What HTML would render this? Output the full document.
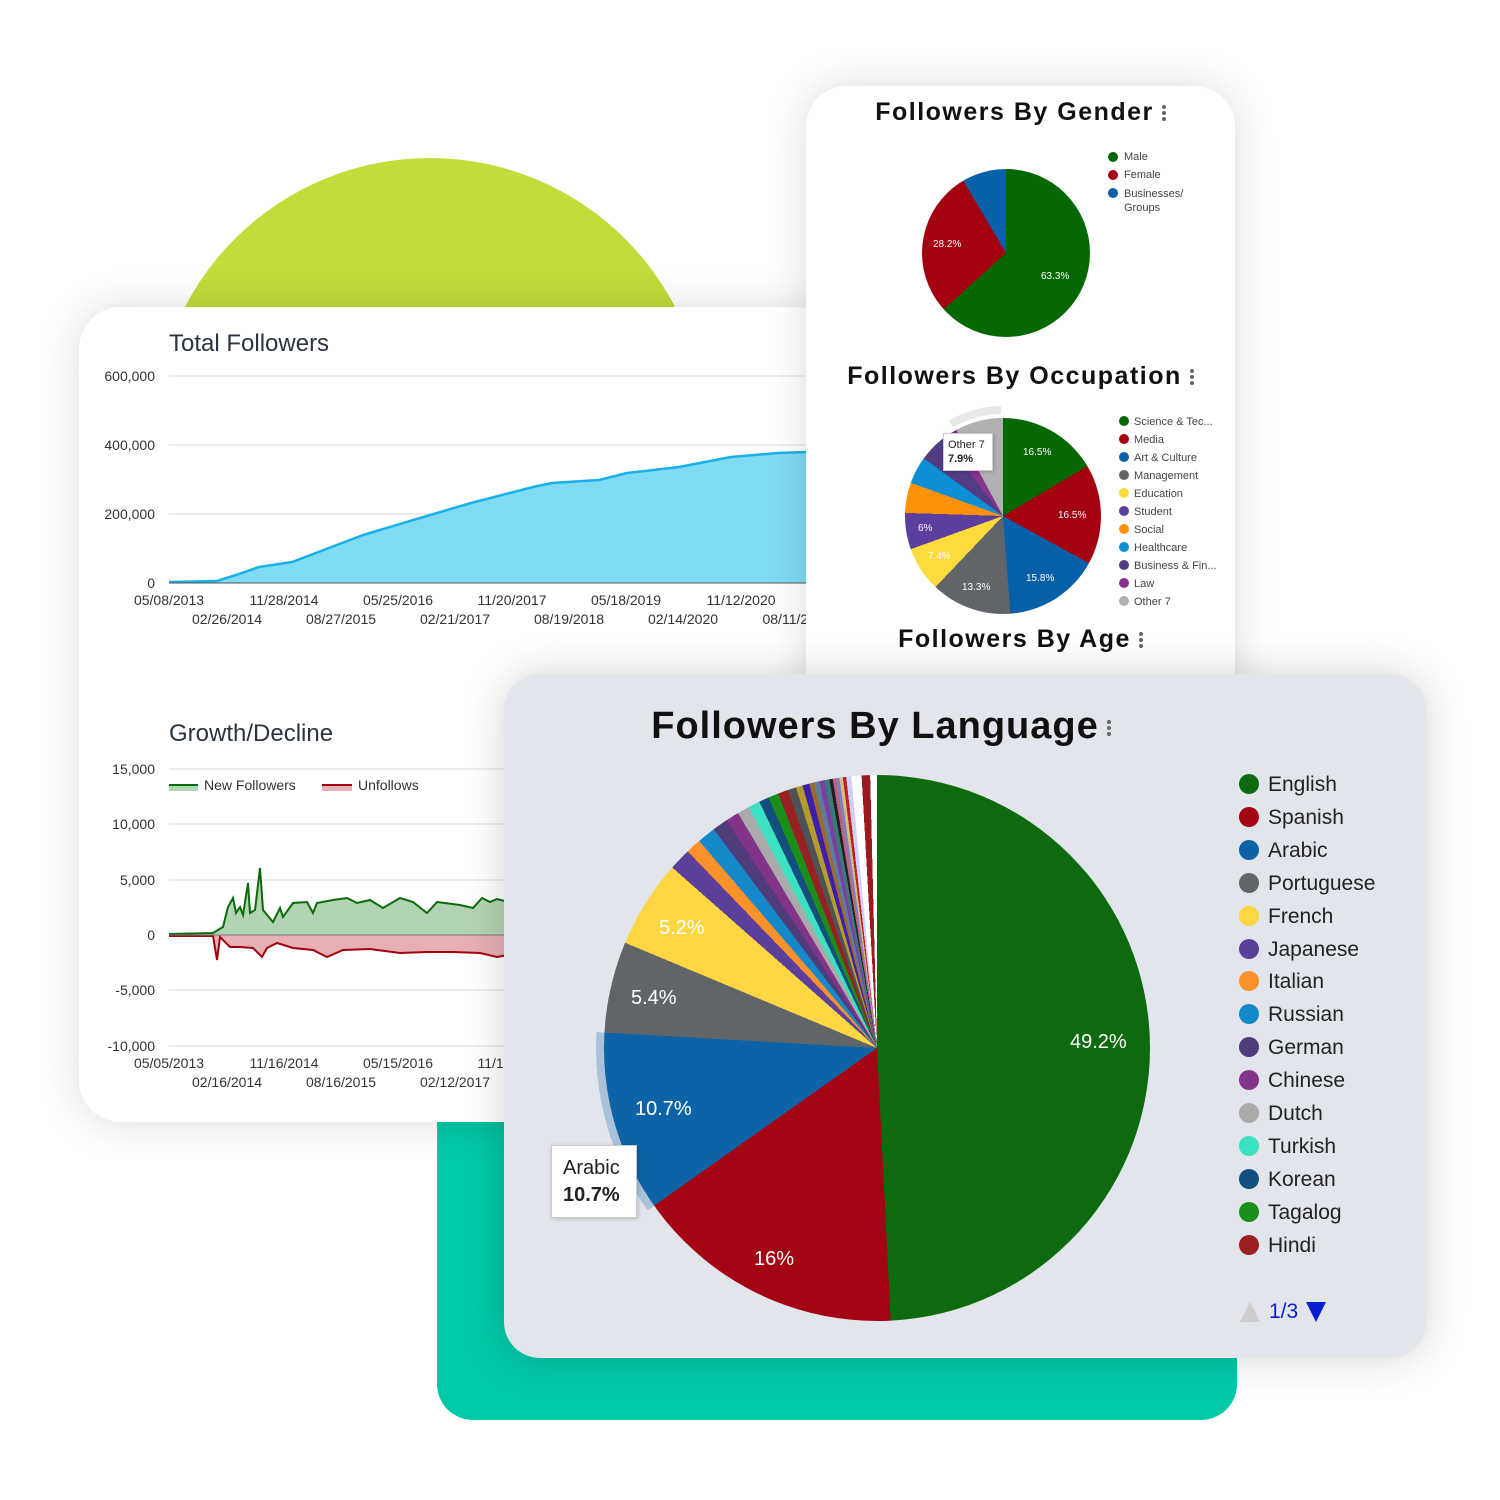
<!DOCTYPE html>
<html><head><meta charset="utf-8"><style>
*{margin:0;padding:0;box-sizing:border-box}
body{width:1500px;height:1500px;background:#fff;position:relative;overflow:hidden;font-family:"Liberation Sans",sans-serif}
.abs{position:absolute}
.card{position:absolute;overflow:hidden}
.card svg{position:absolute}
.t{position:absolute;white-space:nowrap}
.title{font-weight:bold;color:#111;letter-spacing:1.5px}
.dot{position:absolute;border-radius:50%}
.keb{display:inline-block;width:4px;margin-left:8px;vertical-align:middle}
.keb i{display:block;width:4px;height:4px;border-radius:50%;background:#666;margin:2px 0}
</style></head><body>

<div class="abs" style="left:154px;top:158px;width:552px;height:552px;border-radius:50%;background:#c2dc3a"></div>
<div class="abs" style="left:437px;top:1080px;width:800px;height:340px;background:#00c9a7;border-radius:0 0 36px 36px"></div>

<div class="card" style="left:79px;top:307px;width:760px;height:815px;background:#fff;border-radius:42px;box-shadow:0 0 40px rgba(0,0,0,0.15)">
<svg style="left:-79px;top:-307px" width="1500" height="1500">
<g stroke="#ddd" stroke-width="1">
<line x1="169" y1="376" x2="840" y2="376"/><line x1="169" y1="445" x2="840" y2="445"/><line x1="169" y1="514" x2="840" y2="514"/>
<line x1="169" y1="769" x2="840" y2="769"/><line x1="169" y1="824" x2="840" y2="824"/><line x1="169" y1="880" x2="840" y2="880"/><line x1="169" y1="990" x2="840" y2="990"/><line x1="169" y1="1046" x2="840" y2="1046"/>
</g>
<path d="M169,583 L170,582 L217,581 L236,575 L259,567 L292,562 L363,535 L420,518 L471,503 L533,487 L552,483 L599,480 L627,473 L679,467 L731,457 L778,453 L840,451 L840,583 Z" fill="#80dcf5"/>
<polyline points="169,582 217,581 236,575 259,567 292,562 363,535 420,518 471,503 533,487 552,483 599,480 627,473 679,467 731,457 778,453 840,451" fill="none" stroke="#1ab0e8" stroke-width="2.5"/>
<line x1="169" y1="583" x2="840" y2="583" stroke="#555" stroke-width="1"/>
<path d="M169,934 L213,933 L223,927 L228,907 L233,898 L236,913 L240,907 L243,915 L248,883 L250,913 L255,910 L260,868 L263,910 L273,922 L280,908 L283,917 L293,903 L307,902 L313,913 L317,903 L333,900 L347,898 L357,903 L370,900 L383,908 L400,898 L413,902 L427,913 L437,902 L460,905 L473,908 L482,898 L490,902 L497,899 L520,905 L520,935 L169,935 Z" fill="#b3d4b3"/>
<path d="M169,936 L213,936 L217,960 L220,937 L230,947 L240,947 L253,948 L262,957 L267,948 L277,943 L293,948 L313,950 L327,957 L343,950 L370,949 L400,953 L427,952 L453,952 L480,953 L497,957 L520,953 L520,935 L169,935 Z" fill="#e6b0b4"/>
<polyline points="169,934 213,933 223,927 228,907 233,898 236,913 240,907 243,915 248,883 250,913 255,910 260,868 263,910 273,922 280,908 283,917 293,903 307,902 313,913 317,903 333,900 347,898 357,903 370,900 383,908 400,898 413,902 427,913 437,902 460,905 473,908 482,898 490,902 497,899 520,905" fill="none" stroke="#0b6b0b" stroke-width="2"/>
<polyline points="169,936 213,936 217,960 220,937 230,947 240,947 253,948 262,957 267,948 277,943 293,948 313,950 327,957 343,950 370,949 400,953 427,952 453,952 480,953 497,957 520,953" fill="none" stroke="#a30010" stroke-width="2"/>
<line x1="169" y1="935" x2="840" y2="935" stroke="#777" stroke-width="1"/>
<rect x="169" y="784" width="29" height="7" fill="#b3d4b3"/><line x1="169" y1="785" x2="198" y2="785" stroke="#0b6b0b" stroke-width="2"/>
<rect x="322" y="784" width="30" height="7" fill="#e6b0b4"/><line x1="322" y1="785" x2="352" y2="785" stroke="#a30010" stroke-width="2"/>
<g font-family="Liberation Sans" font-size="14" fill="#333">
<text x="204" y="790">New Followers</text><text x="358" y="790">Unfollows</text>
<g text-anchor="end"><text x="155" y="381">600,000</text><text x="155" y="450">400,000</text><text x="155" y="519">200,000</text><text x="155" y="588">0</text>
<text x="155" y="774">15,000</text><text x="155" y="829">10,000</text><text x="155" y="885">5,000</text><text x="155" y="940">0</text><text x="155" y="995">-5,000</text><text x="155" y="1051">-10,000</text></g>
<g text-anchor="middle"><text x="169" y="605">05/08/2013</text><text x="284" y="605">11/28/2014</text><text x="398" y="605">05/25/2016</text><text x="512" y="605">11/20/2017</text><text x="626" y="605">05/18/2019</text><text x="741" y="605">11/12/2020</text>
<text x="227" y="624">02/26/2014</text><text x="341" y="624">08/27/2015</text><text x="455" y="624">02/21/2017</text><text x="569" y="624">08/19/2018</text><text x="683" y="624">02/14/2020</text><text x="797" y="624">08/11/2021</text>
<text x="169" y="1068">05/05/2013</text><text x="284" y="1068">11/16/2014</text><text x="398" y="1068">05/15/2016</text><text x="512" y="1068">11/15/2017</text>
<text x="227" y="1087">02/16/2014</text><text x="341" y="1087">08/16/2015</text><text x="455" y="1087">02/12/2017</text></g>
</g>
<g font-family="Liberation Sans" font-size="24" fill="#2a3340"><text x="169" y="351">Total Followers</text><text x="169" y="741">Growth/Decline</text></g>
</svg>
</div>

<div class="card" style="left:806px;top:86px;width:429px;height:640px;background:#fff;border-radius:40px;box-shadow:0 0 40px rgba(0,0,0,0.15)">
<div class="t title" style="left:0;width:429px;text-align:center;top:12px;font-size:25px">Followers By Gender<span class="keb"><i></i><i></i><i></i></span></div>
<div class="abs" style="left:116px;top:83px;width:168px;height:168px;border-radius:50%;background:conic-gradient(#056805 0 63.3%,#a30010 63.3% 91.5%,#0860a8 91.5% 100%)"></div>
<div class="t" style="left:127px;top:153px;font-size:10px;color:#fff">28.2%</div>
<div class="t" style="left:235px;top:185px;font-size:10px;color:#fff">63.3%</div>
<div class="dot" style="left:302px;top:66px;width:10px;height:10px;background:#056805"></div><div class="t" style="left:318px;top:65px;font-size:11px;color:#444">Male</div>
<div class="dot" style="left:302px;top:84px;width:10px;height:10px;background:#a30010"></div><div class="t" style="left:318px;top:83px;font-size:11px;color:#444">Female</div>
<div class="dot" style="left:302px;top:102px;width:10px;height:10px;background:#0860a8"></div><div class="t" style="left:318px;top:101px;font-size:11px;color:#444;line-height:14px">Businesses/<br>Groups</div>

<div class="t title" style="left:0;width:429px;text-align:center;top:276px;font-size:25px">Followers By Occupation<span class="keb"><i></i><i></i><i></i></span></div>
<svg style="left:-806px;top:-86px" width="1500" height="1500"><path d="M951,424 A104,104 0 0 1 1001,410" fill="none" stroke="#e8e8e8" stroke-width="8"/></svg>
<div class="abs" style="left:99px;top:332px;width:196px;height:196px;border-radius:50%;background:conic-gradient(#056805 0 16.5%,#a30010 16.5% 33%,#0860a8 33% 48.8%,#616469 48.8% 62.1%,#fddb3a 62.1% 69.5%,#5b3e9e 69.5% 75.5%,#fd9108 75.5% 80.5%,#0c8fd4 80.5% 85%,#503d82 85% 89.5%,#86328f 89.5% 92.1%,#b0b0b2 92.1% 100%)"></div>
<div class="t" style="left:217px;top:361px;font-size:10px;color:#fff">16.5%</div>
<div class="t" style="left:252px;top:424px;font-size:10px;color:#fff">16.5%</div>
<div class="t" style="left:220px;top:487px;font-size:10px;color:#fff">15.8%</div>
<div class="t" style="left:156px;top:496px;font-size:10px;color:#fff">13.3%</div>
<div class="t" style="left:122px;top:465px;font-size:10px;color:#fff">7.4%</div>
<div class="t" style="left:112px;top:437px;font-size:10px;color:#fff">6%</div>
<div class="abs" style="left:137px;top:347px;width:50px;height:38px;background:#fff;border:1px solid #ccc;box-shadow:1px 1px 3px rgba(0,0,0,.2)"></div>
<div class="t" style="left:142px;top:352px;font-size:11px;color:#222;line-height:14px">Other 7<br><b>7.9%</b></div>
<div style="position:absolute;left:313px;top:327px;font-size:11px;color:#444;line-height:18px">
<div><span class="dot" style="position:relative;display:inline-block;width:10px;height:10px;background:#056805;margin-right:5px;top:1px"></span>Science &amp; Tec...</div>
<div><span class="dot" style="position:relative;display:inline-block;width:10px;height:10px;background:#a30010;margin-right:5px;top:1px"></span>Media</div>
<div><span class="dot" style="position:relative;display:inline-block;width:10px;height:10px;background:#0860a8;margin-right:5px;top:1px"></span>Art &amp; Culture</div>
<div><span class="dot" style="position:relative;display:inline-block;width:10px;height:10px;background:#616469;margin-right:5px;top:1px"></span>Management</div>
<div><span class="dot" style="position:relative;display:inline-block;width:10px;height:10px;background:#fddb3a;margin-right:5px;top:1px"></span>Education</div>
<div><span class="dot" style="position:relative;display:inline-block;width:10px;height:10px;background:#5b3e9e;margin-right:5px;top:1px"></span>Student</div>
<div><span class="dot" style="position:relative;display:inline-block;width:10px;height:10px;background:#fd9108;margin-right:5px;top:1px"></span>Social</div>
<div><span class="dot" style="position:relative;display:inline-block;width:10px;height:10px;background:#0c8fd4;margin-right:5px;top:1px"></span>Healthcare</div>
<div><span class="dot" style="position:relative;display:inline-block;width:10px;height:10px;background:#503d82;margin-right:5px;top:1px"></span>Business &amp; Fin...</div>
<div><span class="dot" style="position:relative;display:inline-block;width:10px;height:10px;background:#86328f;margin-right:5px;top:1px"></span>Law</div>
<div><span class="dot" style="position:relative;display:inline-block;width:10px;height:10px;background:#b0b0b2;margin-right:5px;top:1px"></span>Other 7</div>
</div>
<div class="t title" style="left:0;width:429px;text-align:center;top:539px;font-size:25px">Followers By Age<span class="keb"><i></i><i></i><i></i></span></div>
</div>

<div class="card" style="left:504px;top:674px;width:922px;height:684px;background:#e2e6ec;border-radius:36px;box-shadow:0 0 40px rgba(0,0,0,0.18)">
<div class="t title" style="left:0;width:754px;text-align:center;top:31px;font-size:38px;color:#111;letter-spacing:1px">Followers By Language<span class="keb"><i></i><i></i><i></i></span></div>
<div class="abs" style="left:92px;top:93px;width:562px;height:562px;border-radius:50%;background:conic-gradient(transparent 0 65.2%,#a9c1d9 65.2% 75.9%,transparent 75.9% 100%)"></div>
<div class="abs" style="left:100px;top:101px;width:546px;height:546px;border-radius:50%;background:conic-gradient(#0e6a0e 0 49.2%,#a30515 49.2% 65.2%,#0e63a6 65.2% 75.9%,#626568 75.9% 81.3%,#fdd643 81.3% 86.5%,#5b3f9b 86.5% 87.8%,#fb9129 87.8% 88.7%,#1488c8 88.7% 89.8%,#503c78 89.8% 90.7%,#82348a 90.7% 91.5%,#aaaaab 91.5% 92.2%,#3be1c0 92.2% 92.9%,#144e7e 92.9% 93.5%,#1a8f1a 93.5% 94.1%,#992020 94.1% 94.7%,#4d5256 94.7% 95.2%,#b59a2e 95.2% 95.6%,#3d1ead 95.6% 96%,#9b6a30 96% 96.3%,#5c7da0 96.3% 96.6%,#7a3fa0 96.6% 96.9%,#3a7a7a 96.9% 97.2%,#222 97.2% 97.4%,#c06080 97.4% 97.6%,#8080c0 97.6% 97.8%,#d0c080 97.8% 98%,#c02020 98% 98.2%,#d0d0ff 98.2% 98.5%,#ffffff 98.5% 99.1%,#9b1a20 99.1% 99.6%,#ffffff 99.6% 100%)"></div>
<div class="t" style="left:566px;top:357px;font-size:20px;color:#fff">49.2%</div>
<div class="t" style="left:250px;top:574px;font-size:20px;color:#fff">16%</div>
<div class="t" style="left:131px;top:424px;font-size:20px;color:#fff">10.7%</div>
<div class="t" style="left:127px;top:313px;font-size:20px;color:#fff">5.4%</div>
<div class="t" style="left:155px;top:243px;font-size:20px;color:#fff">5.2%</div>
<div class="abs" style="left:47px;top:471px;width:86px;height:73px;background:#fff;border:1px solid #ccc;box-shadow:1px 1px 4px rgba(0,0,0,.2)"></div>
<div class="t" style="left:59px;top:481px;font-size:20px;color:#222;line-height:27px">Arabic<br><b>10.7%</b></div>
<div style="position:absolute;left:735px;top:95px;font-size:21px;color:#222;line-height:32.9px">
<div><span style="display:inline-block;width:20px;height:20px;border-radius:50%;background:#0e6a0e;margin-right:9px;vertical-align:-3px"></span>English</div>
<div><span style="display:inline-block;width:20px;height:20px;border-radius:50%;background:#a30515;margin-right:9px;vertical-align:-3px"></span>Spanish</div>
<div><span style="display:inline-block;width:20px;height:20px;border-radius:50%;background:#0e63a6;margin-right:9px;vertical-align:-3px"></span>Arabic</div>
<div><span style="display:inline-block;width:20px;height:20px;border-radius:50%;background:#626568;margin-right:9px;vertical-align:-3px"></span>Portuguese</div>
<div><span style="display:inline-block;width:20px;height:20px;border-radius:50%;background:#fdd643;margin-right:9px;vertical-align:-3px"></span>French</div>
<div><span style="display:inline-block;width:20px;height:20px;border-radius:50%;background:#5b3f9b;margin-right:9px;vertical-align:-3px"></span>Japanese</div>
<div><span style="display:inline-block;width:20px;height:20px;border-radius:50%;background:#fb9129;margin-right:9px;vertical-align:-3px"></span>Italian</div>
<div><span style="display:inline-block;width:20px;height:20px;border-radius:50%;background:#1488c8;margin-right:9px;vertical-align:-3px"></span>Russian</div>
<div><span style="display:inline-block;width:20px;height:20px;border-radius:50%;background:#503c78;margin-right:9px;vertical-align:-3px"></span>German</div>
<div><span style="display:inline-block;width:20px;height:20px;border-radius:50%;background:#82348a;margin-right:9px;vertical-align:-3px"></span>Chinese</div>
<div><span style="display:inline-block;width:20px;height:20px;border-radius:50%;background:#aaaaab;margin-right:9px;vertical-align:-3px"></span>Dutch</div>
<div><span style="display:inline-block;width:20px;height:20px;border-radius:50%;background:#3be1c0;margin-right:9px;vertical-align:-3px"></span>Turkish</div>
<div><span style="display:inline-block;width:20px;height:20px;border-radius:50%;background:#144e7e;margin-right:9px;vertical-align:-3px"></span>Korean</div>
<div><span style="display:inline-block;width:20px;height:20px;border-radius:50%;background:#1a8f1a;margin-right:9px;vertical-align:-3px"></span>Tagalog</div>
<div><span style="display:inline-block;width:20px;height:20px;border-radius:50%;background:#992020;margin-right:9px;vertical-align:-3px"></span>Hindi</div>
</div>
<svg style="left:0;top:0" width="922" height="684">
<polygon points="736,648 756,648 746,628" fill="#ccc"/>
<polygon points="802,628 822,628 812,648" fill="#0a1fcf"/>
</svg>
<div class="t" style="left:765px;top:626px;font-size:21px;color:#0a1fcf">1/3</div>
</div>
</body></html>
